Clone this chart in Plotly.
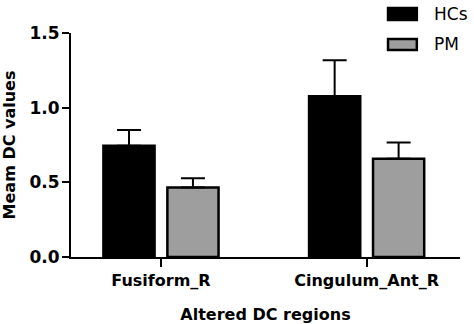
import plotly.graph_objects as go

# Mean degree-centrality values per altered region
regions = ["Fusiform_R", "Cingulum_Ant_R"]
hcs_mean = [0.745, 1.077]
hcs_err = [0.105, 0.240]
pm_mean = [0.466, 0.658]
pm_err = [0.061, 0.108]

group_names = ["HCs", "PM"]
fill_colors = ["#000000", "#9e9e9e"]

font_h = "DejaVu Sans"

fig = go.Figure()
for name, means, errs, color in zip(group_names, [hcs_mean, pm_mean], [hcs_err, pm_err], fill_colors):
    fig.add_trace(go.Bar(
        name=name,
        x=regions,
        y=means,
        marker=dict(color=color, line=dict(color="black", width=2.5)),
        error_y=dict(type="data", symmetric=False, array=errs,
                     arrayminus=[0] * len(errs), color="black",
                     thickness=2, width=12),
        showlegend=False,
    ))

fig.update_layout(
    width=474, height=324,
    margin=dict(l=71, r=14, t=33, b=67),
    paper_bgcolor="white", plot_bgcolor="white",
    barmode="group", bargap=0.378, bargroupgap=0.2,
    font=dict(family=font_h, color="black"),
)

fig.update_xaxes(
    range=[-0.4375, 1.454], automargin=False,
    showline=True, linecolor="black", linewidth=2,
    ticks="outside", ticklen=8, tickwidth=2, tickcolor="black",
    tickfont=dict(family=font_h, size=16, color="black", weight="bold"),
    showgrid=False, zeroline=False,
    title=dict(text="<b>Altered DC regions</b>", standoff=20,
               font=dict(family=font_h, size=16, color="black")),
)
fig.update_yaxes(
    range=[0, 1.5], automargin=False,
    tickvals=[0, 0.5, 1.0, 1.5], ticktext=["0.0", "0.5", "1.0", "1.5"],
    showline=True, linecolor="black", linewidth=2,
    ticks="outside", ticklen=7, tickwidth=2, tickcolor="black",
    ticklabelstandoff=-1,
    tickfont=dict(family=font_h, size=17, color="black", weight="bold"),
    showgrid=False, zeroline=False,
    title=dict(text="<b>Meam DC values</b>", standoff=12,
               font=dict(family=font_h, size=16, color="black")),
)

# Legend drawn as boxes and labels at the top right
legend_rows = [(1.112, 1.058, 1.085), (0.973, 0.924, 0.951)]
for (y0, y1, yc), name, color in zip(legend_rows, group_names, fill_colors):
    fig.add_shape(type="rect", xref="paper", yref="paper",
                  x0=0.815, x1=0.889, y0=y1, y1=y0,
                  fillcolor=color, line=dict(color="black", width=2.5))
    fig.add_annotation(xref="paper", yref="paper", x=0.928, y=yc,
                       xanchor="left", yanchor="middle", showarrow=False,
                       text=name, font=dict(family=font_h, size=17, color="black"))

fig.write_html("out.html")
